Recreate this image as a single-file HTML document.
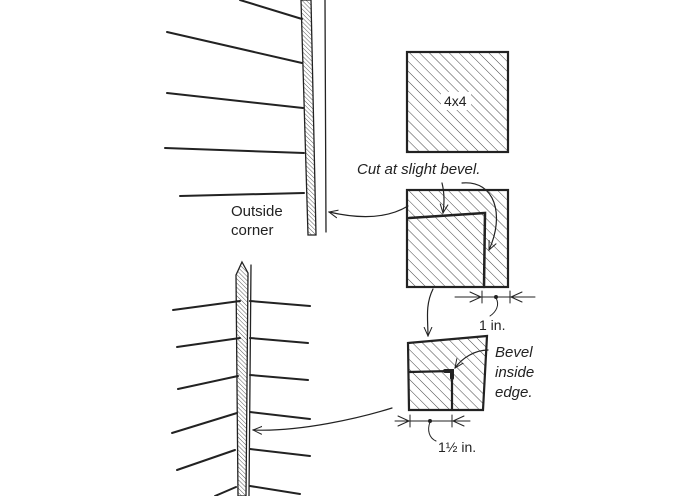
<!DOCTYPE html>
<html><head><style>html,body{margin:0;padding:0;background:#fff}svg{display:block}</style></head><body>
<svg width="700" height="496" viewBox="0 0 700 496" xmlns="http://www.w3.org/2000/svg">
<defs>
<pattern id="h" width="7" height="7" patternUnits="userSpaceOnUse" patternTransform="rotate(-45)">
<line x1="0" y1="0" x2="0" y2="7" stroke="#444" stroke-width="1"/></pattern>
<pattern id="hf" width="3" height="3" patternUnits="userSpaceOnUse" patternTransform="rotate(-45)">
<line x1="0" y1="0" x2="0" y2="3" stroke="#333" stroke-width="0.8"/></pattern>
<marker id="a" markerWidth="10" markerHeight="10" refX="9" refY="5" orient="auto" markerUnits="userSpaceOnUse">
<path d="M0,1 L9,5 L0,9" fill="none" stroke="#222" stroke-width="1"/></marker>
</defs>
<g stroke="#222" fill="none" stroke-linecap="round">
<path d="M301,0 L311,0 L316,235 L308,235 Z" fill="url(#hf)" stroke-width="1.3"/>
<line x1="325" y1="0" x2="326" y2="232" stroke-width="1.3"/>
<line x1="240" y1="0" x2="302" y2="19" stroke-width="2"/>
<line x1="167" y1="32" x2="302" y2="63" stroke-width="2"/>
<line x1="167" y1="93" x2="303" y2="108" stroke-width="2"/>
<line x1="165" y1="148" x2="304" y2="153" stroke-width="2"/>
<line x1="180" y1="196" x2="304" y2="193" stroke-width="2"/>
<path d="M408,206 C385,220 355,218 329,212" stroke-width="1.2" marker-end="url(#a)"/>
<rect x="407" y="52" width="101" height="100" fill="url(#h)" stroke-width="2.2"/>
<rect x="407" y="190" width="101" height="97" fill="url(#h)" stroke-width="2.2"/>
<path d="M409,218 L485,213 L484,287" stroke-width="2.5"/>
<path d="M442,183 C445,195 444,205 443,213" stroke-width="1.2" marker-end="url(#a)"/>
<path d="M462,183 C495,180 505,215 489,250" stroke-width="1.2" marker-end="url(#a)"/>
<line x1="455" y1="297" x2="535" y2="297" stroke-width="1"/>
<line x1="482" y1="291" x2="482" y2="303" stroke-width="1"/>
<line x1="510" y1="291" x2="510" y2="303" stroke-width="1"/>
<path d="M470,292 L481,297 L470,302 M522,292 L511,297 L522,302" stroke-width="1"/>
<circle cx="496" cy="297" r="1.5" fill="#222"/>
<path d="M496,298 C500,305 496,312 490,316" stroke-width="1"/>
<path d="M433,289 C425,305 428,320 428,336" stroke-width="1.2" marker-end="url(#a)"/>
<path d="M408,343 L487,336 L483,410 L409,410 Z" fill="url(#h)" stroke-width="2.2"/>
<path d="M409,372 L452,371 L452,410" stroke-width="2.2"/>
<path d="M445,371 L452,371 L452,378" stroke-width="4"/>
<path d="M488,350 C475,350 462,358 455,368" stroke-width="1.2" marker-end="url(#a)"/>
<line x1="395" y1="421" x2="470" y2="421" stroke-width="1"/>
<line x1="410" y1="415" x2="410" y2="427" stroke-width="1"/>
<line x1="452" y1="415" x2="452" y2="427" stroke-width="1"/>
<path d="M398,416 L409,421 L398,426 M464,416 L453,421 L464,426" stroke-width="1"/>
<circle cx="430" cy="421" r="1.5" fill="#222"/>
<path d="M430,422 C427,430 429,438 436,441" stroke-width="1"/>
<path d="M392,408 C360,418 300,432 253,430" stroke-width="1.2" marker-end="url(#a)"/>
<path d="M242,262 L248,273 L246,496 L238,496 L236,275 Z" fill="url(#hf)" stroke-width="1.3"/>
<line x1="251" y1="265" x2="249" y2="496" stroke-width="1.3"/>
<line x1="173" y1="310" x2="240" y2="301" stroke-width="2"/>
<line x1="177" y1="347" x2="240" y2="338" stroke-width="2"/>
<line x1="178" y1="389" x2="238" y2="376" stroke-width="2"/>
<line x1="172" y1="433" x2="237" y2="413" stroke-width="2"/>
<line x1="177" y1="470" x2="235" y2="450" stroke-width="2"/>
<line x1="215" y1="496" x2="236" y2="487" stroke-width="2"/>
<line x1="250" y1="301" x2="310" y2="306" stroke-width="2"/>
<line x1="250" y1="338" x2="308" y2="343" stroke-width="2"/>
<line x1="250" y1="375" x2="308" y2="380" stroke-width="2"/>
<line x1="250" y1="412" x2="310" y2="419" stroke-width="2"/>
<line x1="250" y1="449" x2="310" y2="456" stroke-width="2"/>
<line x1="250" y1="486" x2="300" y2="494" stroke-width="2"/>
</g>
<g font-family="Liberation Sans, sans-serif" fill="#222" font-size="14">
<rect x="441" y="92" width="30" height="18" fill="#fff"/>
<text x="444" y="106" font-size="14">4x4</text>
<text x="231" y="216" font-size="15">Outside</text>
<text x="231" y="235" font-size="15">corner</text>
<text x="357" y="174" font-style="italic" font-size="15">Cut at slight bevel.</text>
<text x="479" y="330">1 in.</text>
<text x="495" y="357" font-style="italic" font-size="15">Bevel</text>
<text x="495" y="377" font-style="italic" font-size="15">inside</text>
<text x="495" y="397" font-style="italic" font-size="15">edge.</text>
<text x="438" y="452">1½ in.</text>
</g>
</svg>
</body></html>
